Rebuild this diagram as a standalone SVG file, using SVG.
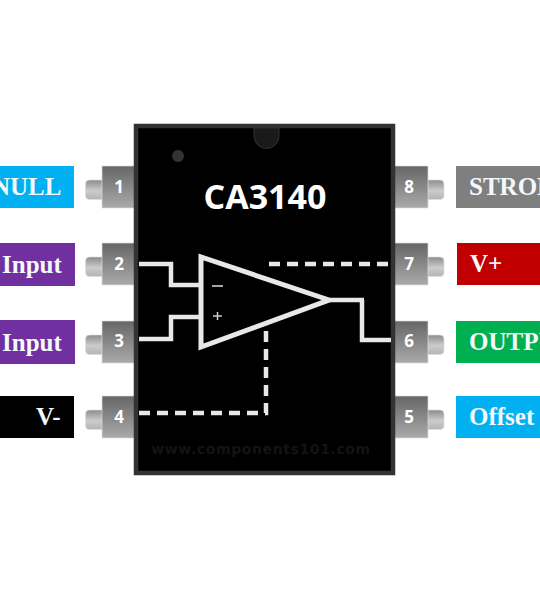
<svg xmlns="http://www.w3.org/2000/svg" width="540" height="600" viewBox="0 0 540 600">
<style>
.lbl{font-family:"Liberation Serif","Times New Roman",serif;font-weight:700;font-size:25px;fill:#f4f8fb}
.num{font-family:"Open Sans","Liberation Sans",sans-serif;font-weight:700;font-size:17px;fill:#fff;text-anchor:middle}
.w{fill:none;stroke:#e8e8e8;stroke-width:4.5}
.d{stroke-dasharray:11 7}
.pin{stroke:#ddd;stroke-width:.7}
</style>
<defs>
<linearGradient id="body" x1="0" y1="0" x2="0" y2="1"><stop offset="0" stop-color="#666"/><stop offset="1" stop-color="#aaa"/></linearGradient>
<linearGradient id="tab" x1="0" y1="0" x2="0" y2="1"><stop offset="0" stop-color="#8c8c8c"/><stop offset=".55" stop-color="#cccccc"/><stop offset="1" stop-color="#b4b4b4"/></linearGradient>
<g id="pinL"><rect x="85.500" y="-7" width="20" height="19.500" rx="4" fill="url(#tab)" class="pin"/><rect x="102" y="-21" width="33" height="42" fill="url(#body)" class="pin"/></g>
<g id="pinR"><rect x="424" y="-7" width="20" height="19.500" rx="4" fill="url(#tab)" class="pin"/><rect x="394" y="-21" width="34" height="42" fill="url(#body)" class="pin"/></g>
</defs>
<rect width="540" height="600" fill="#fff"/>
<g id="pin-1"><use href="#pinL" y="187"/><text class="num" x="119" y="193">1</text></g>
<g id="pin-2"><use href="#pinL" y="264"/><text class="num" x="119" y="270">2</text></g>
<g id="pin-3"><use href="#pinL" y="342"/><text class="num" x="119" y="347">3</text></g>
<g id="pin-4"><use href="#pinL" y="417"/><text class="num" x="119" y="423">4</text></g>
<g id="pin-8"><use href="#pinR" y="187"/><text class="num" x="409" y="193">8</text></g>
<g id="pin-7"><use href="#pinR" y="264"/><text class="num" x="409" y="270">7</text></g>
<g id="pin-6"><use href="#pinR" y="342"/><text class="num" x="409" y="347">6</text></g>
<g id="pin-5"><use href="#pinR" y="417"/><text class="num" x="409" y="423">5</text></g>
<g id="chip">
<rect x="136" y="126" width="257" height="347" fill="#000" stroke="#333" stroke-width="4.500"/>
<path d="M254 128h25v8a12.500 12.500 0 0 1-25 0z" fill="#1a1a1a" stroke="#333" stroke-width="1"/>
<circle cx="178" cy="156" r="6" fill="#333"/>
<text x="265" y="209" text-anchor="middle" font-family="'Open Sans','Liberation Sans',sans-serif" font-weight="700" font-size="34" fill="#fff">CA3140</text>
<text x="261" y="454" text-anchor="middle" font-family="'DejaVu Sans','Liberation Sans',sans-serif" font-weight="700" font-size="14" fill="#131313" letter-spacing=".6">www.components101.com</text>
</g>
<g id="connectors">
<path class="w" d="M139 264H171V285H201"/>
<path class="w" d="M139 339H171V317H201"/>
<path class="w" d="M362 300V340H391"/>
<path class="w" d="M329 300H364"/>
<path class="w d" d="M269 264H391"/>
<path class="w d" d="M139 413H266V328"/>
</g>
<g id="opamp">
<path d="M201 257V347L329 300Z" fill="none" stroke="#e8e8e8" stroke-width="5"/>
<path d="M212 286H223" stroke="#ddd" stroke-width="1.500"/>
<path d="M213 316H222M217.500 312V320" stroke="#ccc" stroke-width="1.500"/>
</g>
<g id="label-null"><rect x="-1" y="166" width="75" height="42" fill="#00b0f0"/><text class="lbl" x="-8" y="195">NULL</text></g>
<g id="label-input-2"><rect x="-1" y="243" width="76" height="43" fill="#7030a0"/><text class="lbl" x="2" y="273">Input</text></g>
<g id="label-input-3"><rect x="-1" y="320" width="76" height="44" fill="#7030a0"/><text class="lbl" x="2" y="351">Input</text></g>
<g id="label-vminus"><rect x="-1" y="396" width="75" height="42" fill="#000"/><text class="lbl" x="36" y="425">V-</text></g>
<g id="label-strobe"><rect x="456" y="166" width="85" height="42" fill="#7f7f7f"/><text class="lbl" x="469" y="195">STROBE</text></g>
<g id="label-vplus"><rect x="457" y="243" width="84" height="42" fill="#c00000"/><text class="lbl" x="470" y="272">V+</text></g>
<g id="label-output"><rect x="456" y="321" width="85" height="42" fill="#00b050"/><text class="lbl" x="469" y="350">OUTPUT</text></g>
<g id="label-offset"><rect x="456" y="396" width="85" height="42" fill="#00b0f0"/><text class="lbl" x="469" y="425">Offset</text></g>
</svg>
